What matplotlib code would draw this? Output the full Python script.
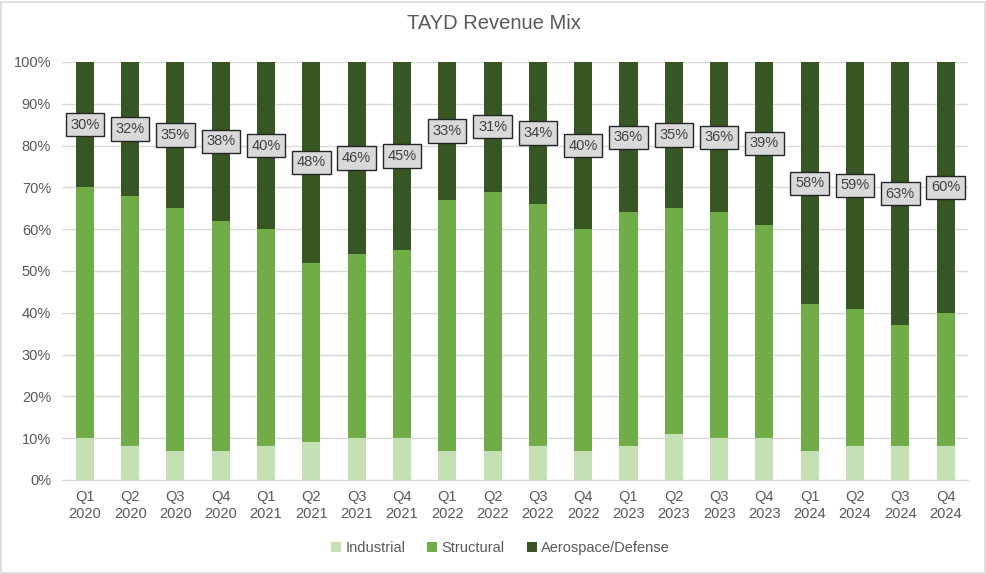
import numpy as np
import matplotlib.pyplot as plt
from matplotlib.patches import Rectangle

# quarters and revenue mix (%)
quarters = ["Q1\n2020", "Q2\n2020", "Q3\n2020", "Q4\n2020",
            "Q1\n2021", "Q2\n2021", "Q3\n2021", "Q4\n2021",
            "Q1\n2022", "Q2\n2022", "Q3\n2022", "Q4\n2022",
            "Q1\n2023", "Q2\n2023", "Q3\n2023", "Q4\n2023",
            "Q1\n2024", "Q2\n2024", "Q3\n2024", "Q4\n2024"]
industrial = [10, 8, 7, 7, 8, 9, 10, 10, 7, 7, 8, 7, 8, 11, 10, 10, 7, 8, 8, 8]
aerospace = [30, 32, 35, 38, 40, 48, 46, 45, 33, 31, 34, 40, 36, 35, 36, 39, 58, 59, 63, 60]
structural = [100 - i - a for i, a in zip(industrial, aerospace)]

C_IND = "#C5E0B4"
C_STR = "#70AD47"
C_AER = "#375623"
GRAY = "#595959"

plt.rcParams["font.family"] = ["Liberation Sans", "DejaVu Sans"]

fig = plt.figure(figsize=(9.87, 5.74), dpi=100)
ax = fig.add_axes([0.063, 0.164, 0.918, 0.728])

x = np.arange(len(quarters))
ind = np.array(industrial) / 100
stru = np.array(structural) / 100
aer = np.array(aerospace) / 100
w = 0.4

ax.bar(x, ind, w, color=C_IND, label="Industrial", zorder=3)
ax.bar(x, stru, w, bottom=ind, color=C_STR, label="Structural", zorder=3)
ax.bar(x, aer, w, bottom=ind + stru, color=C_AER, label="Aerospace/Defense", zorder=3)

# data labels for aerospace share
for xi, b, h, v in zip(x, ind + stru, aer, aerospace):
    ax.text(xi, b + h / 2, f"{v}%", ha="center", va="center", fontsize=10.5,
            color="#404040", zorder=5,
            bbox=dict(boxstyle="square,pad=0.32", facecolor="#D9D9D9",
                      edgecolor="#262626", linewidth=1.0))

ax.set_xlim(-0.5, len(quarters) - 0.5)
ax.set_ylim(0, 1)
ax.set_yticks(np.arange(0, 1.01, 0.1))
ax.set_yticklabels([f"{int(round(t * 100))}%" for t in np.arange(0, 1.01, 0.1)])
ax.set_xticks(x)
ax.set_xticklabels(quarters, linespacing=1.35)
ax.tick_params(axis="both", length=0, labelsize=10.5, labelcolor=GRAY)
ax.tick_params(axis="x", pad=7)
ax.tick_params(axis="y", pad=8)
ax.grid(axis="y", color="#D9D9D9", linewidth=1, zorder=0)
for s in ["top", "right", "left"]:
    ax.spines[s].set_visible(False)
ax.spines["bottom"].set_color("#D9D9D9")

fig.suptitle("TAYD Revenue Mix", y=0.975, fontsize=14.5, color=GRAY)

fig.legend(loc="lower center", bbox_to_anchor=(0.507, 0.01), ncol=3, frameon=False,
           fontsize=10.5, labelcolor=GRAY, handlelength=0.7, handleheight=0.7,
           handletextpad=0.3, columnspacing=1.5)

fig.patches.append(Rectangle((0.001, 0.002), 0.997, 0.995, transform=fig.transFigure,
                             fill=False, edgecolor="#D9D9D9", linewidth=1.2))

fig.savefig("out.png", dpi=100)
